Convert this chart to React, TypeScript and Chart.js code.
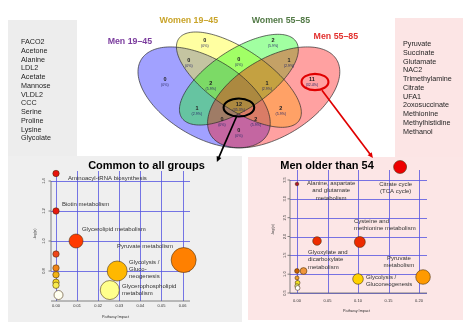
import React, { useEffect, useRef } from "react";
import { Chart, registerables } from "chart.js";

Chart.register(...registerables);

const FONT = '"Liberation Sans", Arial, Helvetica, sans-serif';

// ---------------- side lists ----------------
const sharedMetabolites = ["FACO2", "Acetone", "Alanine", "LDL2", "Acetate", "Mannose", "VLDL2", "CCC", "Serine", "Proline", "Lysine", "Glycolate"];
const olderMenMetabolites = ["Pyruvate", "Succinate", "Glutamate", "NAC2", "Trimethylamine", "Citrate", "UFA1", "2oxosuccinate", "Methionine", "Methylhistidine", "Methanol"];

// ---------------- Venn diagram ----------------
const vennSetNames = ["Men 19–45", "Women 19–45", "Women 55–85", "Men 55–85"];
const vennSetFill = ["#0000ff", "#ffff00", "#00ff00", "#ff0000"];
const vennSetTitleColors = ["#7b3c9e", "#c9a42a", "#537a47", "#e2302e"];
const vennEllipseX = [0.35, 0.5, 0.5, 0.65];
const vennEllipseY = [0.47, 0.57, 0.57, 0.47];
const vennEllipseA = [0.35, 0.35, 0.33, 0.35];
const vennEllipseB = [0.2, 0.15, 0.15, 0.2];
const vennEllipseRot = [135, 135, 45, 45];
const vennTitleX = [0.03, 0.284, 0.681, 0.918];
const vennTitleY = [0.783, 0.901, 0.901, 0.811];

// regions: A, B, C, D, AB, BC, CD, ABC, BCD, AC, BD, ABCD, ACD, ABD, AD
const vennRegionCounts = ["0", "0", "2", "11", "0", "0", "1", "2", "1", "1", "2", "12", "0", "2", "0"];
const vennRegionPercents = ["(0%)", "(0%)", "(5.9%)", "(32.4%)", "(0%)", "(0%)", "(2.9%)", "(5.9%)", "(2.9%)", "(2.9%)", "(5.9%)", "(35.3%)", "(0%)", "(5.9%)", "(0%)"];
const vennRegionX = [0.181, 0.353, 0.647, 0.815, 0.284, 0.5, 0.716, 0.379, 0.621, 0.319, 0.681, 0.5, 0.427, 0.573, 0.5];
const vennRegionY = [0.557, 0.777, 0.777, 0.557, 0.664, 0.669, 0.664, 0.534, 0.534, 0.393, 0.393, 0.415, 0.331, 0.331, 0.268];

// highlight rings and arrows (data units)
const ringX = [0.5, 0.828];
const ringY = [0.413, 0.557];
const ringRX = [0.066, 0.058];
const ringRY = [0.051, 0.046];
const ringColors = ["#000000", "#e00000"];
const arrowFromX = [0.49, 0.858];
const arrowFromY = [0.362, 0.51];
const arrowToX = [0.405, 1.078];
const arrowToY = [0.105, 0.127];

// ---------------- bubble chart: common to all groups ----------------
const commonTitle = "Common to all groups";
const commonImpact = [0, 0, 0.0095, 0, 0, 0, 0, 0, 0.0012, 0.0605, 0.029, 0.0255];
const commonLogP = [1.45, 1.2, 1.0, 0.913, 0.82, 0.775, 0.725, 0.705, 0.64, 0.873, 0.8, 0.673];
const commonRadius = [3.2, 3.2, 7, 3.2, 3.2, 3.2, 3.2, 3.2, 4.5, 12.5, 10, 9.5];
const commonColors = ["#e8120c", "#e8160c", "#ff3a00", "#f0461a", "#f08418", "#f4b414", "#f4d820", "#f8ec50", "#fffff0", "#ff8000", "#ffb800", "#ffff8c"];
const commonXTicks = [0, 0.01, 0.02, 0.03, 0.04, 0.05, 0.06];
const commonXTickLabels = ["0.00", "0.01", "0.02", "0.03", "0.04", "0.05", "0.06"];
const commonYTicks = [0.8, 1.0, 1.2, 1.4];
const commonYTickLabels = ["0.8", "1.0", "1.2", "1.4"];
const commonLabelLines = [["Aminoacyl-tRNA biosynthesis"], ["Biotin metabolism"], ["Glycerolipid metabolism"], ["Pyruvate metabolism"], ["Glycolysis /", "Gluco-", "neogenesis"], ["Glycerophospholipid", "metabolism"]];
const commonLabelX = [0.0057, 0.0028, 0.0123, 0.0289, 0.0346, 0.0313];
const commonLabelY = [1.42, 1.247, 1.08, 0.967, 0.855, 0.695];
const commonLabelAlign = ["left", "left", "left", "left", "left", "left"];

// ---------------- bubble chart: men older than 54 ----------------
const olderTitle = "Men older than 54";
const olderImpact = [0.169, 0, 0.0328, 0.103, 0.2066, 0.1, 0, 0.0107, 0, 0.001, 0, 0.001];
const olderLogP = [3.845, 3.394, 1.88, 1.854, 0.925, 0.872, 1.084, 1.084, 0.9, 0.77, 0.686, 0.633];
const olderRadius = [6.5, 1.8, 4.3, 5.5, 7.3, 5.3, 2.4, 3.4, 2, 2.4, 2.2, 2.4];
const olderColors = ["#ee0000", "#b0102a", "#ee2c00", "#ee2a00", "#ff9a00", "#ffd200", "#c86000", "#f0963c", "#f0a024", "#f2e21e", "#e8f070", "#ffffff"];
const olderXTicks = [0, 0.05, 0.1, 0.15, 0.2];
const olderXTickLabels = ["0.00", "0.05", "0.10", "0.15", "0.20"];
const olderYTicks = [0.5, 1.0, 1.5, 2.0, 2.5, 3.0, 3.5];
const olderYTickLabels = ["0.5", "1.0", "1.5", "2.0", "2.5", "3.0", "3.5"];
const olderLabelLines = [["Alanine, aspartate", "and glutamate", "metabolism"], ["Citrate cycle", "(TCA cycle)"], ["Cysteine and", "methionine metabolism"], ["Glyoxylate and", "dicarboxylate", "metabolism"], ["Pyruvate", "metabolism"], ["Glycolysis /", "Gluconeogenesis"]];
const olderLabelX = [0.056, 0.1618, 0.0934, 0.018, 0.167, 0.113];
const olderLabelY = [3.42, 3.386, 2.41, 1.589, 1.43, 0.925];
const olderLabelAlign = ["center", "center", "left", "left", "center", "left"];

// ---------------- helpers ----------------
function drawArrow(ctx: CanvasRenderingContext2D, x1: number, y1: number, x2: number, y2: number, color: string) {
  const ang = Math.atan2(y2 - y1, x2 - x1);
  const head = 5.5;
  ctx.save();
  ctx.strokeStyle = color;
  ctx.fillStyle = color;
  ctx.lineWidth = 1.7;
  ctx.beginPath();
  ctx.moveTo(x1, y1);
  ctx.lineTo(x2 - Math.cos(ang) * head * 0.8, y2 - Math.sin(ang) * head * 0.8);
  ctx.stroke();
  ctx.beginPath();
  ctx.moveTo(x2, y2);
  ctx.lineTo(x2 - head * Math.cos(ang) + 2.6 * Math.sin(ang), y2 - head * Math.sin(ang) - 2.6 * Math.cos(ang));
  ctx.lineTo(x2 - head * Math.cos(ang) - 2.6 * Math.sin(ang), y2 - head * Math.sin(ang) + 2.6 * Math.cos(ang));
  ctx.closePath();
  ctx.fill();
  ctx.restore();
}

const vennPlugin = {
  id: "vennDecor",
  beforeDatasetsDraw(chart: any) {
    const { ctx, scales } = chart;
    const sx = scales.x, sy = scales.y;
    const path = (i: number) => {
      const th = (vennEllipseRot[i] * Math.PI) / 180;
      ctx.beginPath();
      for (let k = 0; k <= 160; k++) {
        const t = (k / 160) * Math.PI * 2;
        const ux = vennEllipseX[i] + vennEllipseA[i] * Math.cos(t) * Math.cos(th) - vennEllipseB[i] * Math.sin(t) * Math.sin(th);
        const uy = vennEllipseY[i] + vennEllipseA[i] * Math.cos(t) * Math.sin(th) + vennEllipseB[i] * Math.sin(t) * Math.cos(th);
        const px = sx.getPixelForValue(ux), py = sy.getPixelForValue(uy);
        if (k === 0) ctx.moveTo(px, py); else ctx.lineTo(px, py);
      }
      ctx.closePath();
    };
    ctx.save();
    for (let i = 0; i < 4; i++) {
      ctx.globalAlpha = 0.37;
      ctx.fillStyle = vennSetFill[i];
      path(i);
      ctx.fill();
    }
    ctx.globalAlpha = 1;
    ctx.strokeStyle = "rgba(40,40,40,0.85)";
    ctx.lineWidth = 0.8;
    for (let i = 0; i < 4; i++) {
      path(i);
      ctx.stroke();
    }
    ctx.restore();
  },
  afterDatasetsDraw(chart: any) {
    const { ctx, scales } = chart;
    const sx = scales.x, sy = scales.y;
    const meta = chart.getDatasetMeta(0);
    ctx.save();
    ctx.textAlign = "center";
    ctx.textBaseline = "middle";
    meta.data.forEach((pt: any, i: number) => {
      ctx.fillStyle = "#222";
      ctx.font = `bold 5.5px ${FONT}`;
      ctx.fillText(vennRegionCounts[i], pt.x, pt.y - 2.3);
      ctx.fillStyle = "#2a2a66";
      ctx.font = `3.6px ${FONT}`;
      ctx.fillText(vennRegionPercents[i], pt.x, pt.y + 2.6);
    });
    for (let i = 0; i < 4; i++) {
      ctx.fillStyle = vennSetTitleColors[i];
      ctx.font = `bold 8.8px ${FONT}`;
      ctx.fillText(vennSetNames[i], sx.getPixelForValue(vennTitleX[i]), sy.getPixelForValue(vennTitleY[i]));
    }
    for (let i = 0; i < 2; i++) {
      const cx = sx.getPixelForValue(ringX[i]);
      const cy = sy.getPixelForValue(ringY[i]);
      const rx = Math.abs(sx.getPixelForValue(ringX[i] + ringRX[i]) - cx);
      const ry = Math.abs(sy.getPixelForValue(ringY[i] + ringRY[i]) - cy);
      ctx.strokeStyle = ringColors[i];
      ctx.lineWidth = 2.1;
      ctx.beginPath();
      ctx.ellipse(cx, cy, rx, ry, 0, 0, Math.PI * 2);
      ctx.stroke();
      drawArrow(ctx, sx.getPixelForValue(arrowFromX[i]), sy.getPixelForValue(arrowFromY[i]), sx.getPixelForValue(arrowToX[i]), sy.getPixelForValue(arrowToY[i]), ringColors[i]);
    }
    ctx.restore();
  },
};

type BubbleCfg = {
  title: string;
  titleX: number;
  titleY: number;
  xTicks: number[];
  xTickLabels: string[];
  yTicks: number[];
  yTickLabels: string[];
  xLabelOffset: number;
  yLabelOffset: number;
  yTitleOffset: number;
  xTitleOffset: number;
  xTitleShift: number;
  labelLines: string[][];
  labelX: number[];
  labelY: number[];
  labelAlign: string[];
  lineGap: number;
};

function makeBubblePlugin(cfg: BubbleCfg) {
  return {
    id: "bubbleDecor",
    beforeDatasetsDraw(chart: any) {
      const { ctx, chartArea: ca, scales } = chart;
      const sx = scales.x, sy = scales.y;
      ctx.save();
      ctx.strokeStyle = "rgba(85,85,225,0.8)";
      ctx.lineWidth = 1;
      cfg.xTicks.forEach((v) => {
        const p = Math.round(sx.getPixelForValue(v)) + 0.5;
        ctx.beginPath();
        ctx.moveTo(p, ca.top);
        ctx.lineTo(p, ca.bottom);
        ctx.stroke();
      });
      cfg.yTicks.forEach((v) => {
        const p = Math.round(sy.getPixelForValue(v)) + 0.5;
        ctx.beginPath();
        ctx.moveTo(ca.left, p);
        ctx.lineTo(ca.right, p);
        ctx.stroke();
      });
      // axes
      ctx.strokeStyle = "#666";
      ctx.lineWidth = 0.8;
      const yTop = sy.getPixelForValue(cfg.yTicks[cfg.yTicks.length - 1]);
      const yBot = sy.getPixelForValue(cfg.yTicks[0]);
      ctx.beginPath();
      ctx.moveTo(ca.left, yTop);
      ctx.lineTo(ca.left, yBot);
      ctx.stroke();
      cfg.yTicks.forEach((v) => {
        const p = sy.getPixelForValue(v);
        ctx.beginPath();
        ctx.moveTo(ca.left, p);
        ctx.lineTo(ca.left - 2.5, p);
        ctx.stroke();
      });
      ctx.beginPath();
      ctx.moveTo(ca.left, ca.bottom);
      ctx.lineTo(ca.right, ca.bottom);
      ctx.stroke();
      // tick labels
      ctx.fillStyle = "#333";
      ctx.font = `4px ${FONT}`;
      ctx.textAlign = "center";
      ctx.textBaseline = "middle";
      cfg.xTicks.forEach((v, i) => {
        ctx.fillText(cfg.xTickLabels[i], sx.getPixelForValue(v), ca.bottom + cfg.xLabelOffset);
      });
      cfg.yTicks.forEach((v, i) => {
        ctx.save();
        ctx.translate(ca.left - cfg.yLabelOffset, sy.getPixelForValue(v));
        ctx.rotate(-Math.PI / 2);
        ctx.fillText(cfg.yTickLabels[i], 0, 0);
        ctx.restore();
      });
      // axis titles
      ctx.font = `3.8px ${FONT}`;
      ctx.fillText("Pathway Impact", (ca.left + ca.right) / 2 + cfg.xTitleShift, ca.bottom + cfg.xTitleOffset);
      ctx.save();
      ctx.translate(ca.left - cfg.yTitleOffset, (ca.top + ca.bottom) / 2 - 2);
      ctx.rotate(-Math.PI / 2);
      ctx.fillText("-log(p)", 0, 0);
      ctx.restore();
      ctx.restore();
    },
    afterDatasetsDraw(chart: any) {
      const { ctx, scales } = chart;
      const sx = scales.x, sy = scales.y;
      ctx.save();
      ctx.fillStyle = "#000";
      ctx.font = `bold 11px ${FONT}`;
      ctx.textAlign = "center";
      ctx.textBaseline = "middle";
      ctx.fillText(cfg.title, cfg.titleX, cfg.titleY);
      ctx.fillStyle = "#333";
      ctx.font = `6px ${FONT}`;
      cfg.labelLines.forEach((lines, i) => {
        ctx.textAlign = cfg.labelAlign[i] as CanvasTextAlign;
        const px = sx.getPixelForValue(cfg.labelX[i]);
        const py = sy.getPixelForValue(cfg.labelY[i]);
        lines.forEach((ln, j) => ctx.fillText(ln, px, py + j * cfg.lineGap));
      });
      ctx.restore();
    },
  };
}

function makeBubbleConfig(
  xs: number[], ys: number[], rs: number[], colors: string[],
  xMin: number, xMax: number, yMin: number, yMax: number,
  padding: { left: number; right: number; top: number; bottom: number },
  cfg: BubbleCfg
): any {
  return {
    type: "bubble",
    data: {
      datasets: [
        {
          data: xs.map((x, i) => ({ x, y: ys[i], r: rs[i] })),
          backgroundColor: colors,
          borderColor: "rgba(70,45,10,0.7)",
          borderWidth: 0.8,
          clip: false,
        },
      ],
    },
    options: {
      responsive: false,
      animation: false,
      events: [],
      layout: { padding },
      scales: {
        x: { type: "linear", display: false, min: xMin, max: xMax },
        y: { type: "linear", display: false, min: yMin, max: yMax },
      },
      plugins: { legend: { display: false }, tooltip: { enabled: false } },
    },
    plugins: [makeBubblePlugin(cfg)],
  };
}

function ChartCanvas(props: { make: () => any; left: number; top: number; width: number; height: number; z: number }) {
  const ref = useRef<HTMLCanvasElement>(null);
  useEffect(() => {
    const chart = new Chart(ref.current as HTMLCanvasElement, props.make());
    return () => chart.destroy();
  }, []);
  return (
    <canvas
      ref={ref}
      width={props.width}
      height={props.height}
      style={{ position: "absolute", left: props.left, top: props.top, width: props.width, height: props.height, zIndex: props.z }}
    />
  );
}

const makeVenn = (): any => ({
  type: "scatter",
  data: {
    datasets: [
      {
        data: vennRegionX.map((x, i) => ({ x, y: vennRegionY[i] })),
        pointRadius: 0,
        pointHoverRadius: 0,
      },
    ],
  },
  options: {
    responsive: false,
    animation: false,
    events: [],
    layout: { padding: 0 },
    scales: {
      x: { type: "linear", display: false, min: -0.198, max: 1.173 },
      y: { type: "linear", display: false, min: 0.088, max: 1.02 },
    },
    plugins: { legend: { display: false }, tooltip: { enabled: false } },
  },
  plugins: [vennPlugin],
});

const makeCommon = () =>
  makeBubbleConfig(commonImpact, commonLogP, commonRadius, commonColors, -0.00237, 0.06351, 0.6, 1.4667,
    { left: 43, right: 52, top: 15, bottom: 21 },
    {
      title: commonTitle, titleX: 138.5, titleY: 10,
      xTicks: commonXTicks, xTickLabels: commonXTickLabels, yTicks: commonYTicks, yTickLabels: commonYTickLabels,
      xLabelOffset: 5, yLabelOffset: 7, yTitleOffset: 16, xTitleOffset: 16, xTitleShift: -5,
      labelLines: commonLabelLines, labelX: commonLabelX, labelY: commonLabelY, labelAlign: commonLabelAlign, lineGap: 7,
    });

const makeOlder = () =>
  makeBubbleConfig(olderImpact, olderLogP, olderRadius, olderColors, -0.01148, 0.2131, 0.5, 3.7655,
    { left: 42, right: 36, top: 13, bottom: 27 },
    {
      title: olderTitle, titleX: 79, titleY: 9,
      xTicks: olderXTicks, xTickLabels: olderXTickLabels, yTicks: olderYTicks, yTickLabels: olderYTickLabels,
      xLabelOffset: 8, yLabelOffset: 5, yTitleOffset: 17, xTitleOffset: 18, xTitleShift: -2,
      labelLines: olderLabelLines, labelX: olderLabelX, labelY: olderLabelY, labelAlign: olderLabelAlign, lineGap: 7.5,
    });

const listStyle = (left: number, top: number): React.CSSProperties => ({
  position: "absolute",
  left,
  top,
  fontFamily: FONT,
  fontSize: 7.2,
  lineHeight: "8.75px",
  color: "#1e1e1e",
  zIndex: 2,
  willChange: "transform",
});

export default function App() {
  return (
    <div style={{ position: "fixed", left: 0, top: 0, width: 474, height: 327, background: "#ffffff", overflow: "hidden" }}>
      <div style={{ position: "absolute", left: 8, top: 20, width: 69, height: 140, background: "#ededed" }} />
      <div style={{ position: "absolute", left: 8, top: 156, width: 234, height: 166, background: "#efefef" }} />
      <div style={{ position: "absolute", left: 395, top: 18, width: 68, height: 142, background: "#fce5e5" }} />
      <div style={{ position: "absolute", left: 248, top: 157, width: 215, height: 163, background: "#fce6e6" }} />
      <div style={listStyle(21, 37.6)}>
        {sharedMetabolites.map((m) => (
          <div key={m}>{m}</div>
        ))}
      </div>
      <div style={listStyle(403, 39.6)}>
        {olderMenMetabolites.map((m) => (
          <div key={m}>{m}</div>
        ))}
      </div>
      <ChartCanvas make={makeCommon} left={8} top={156} width={234} height={166} z={3} />
      <ChartCanvas make={makeOlder} left={248} top={157} width={215} height={163} z={3} />
      <ChartCanvas make={makeVenn} left={77} top={0} width={318} height={165} z={4} />
    </div>
  );
}
